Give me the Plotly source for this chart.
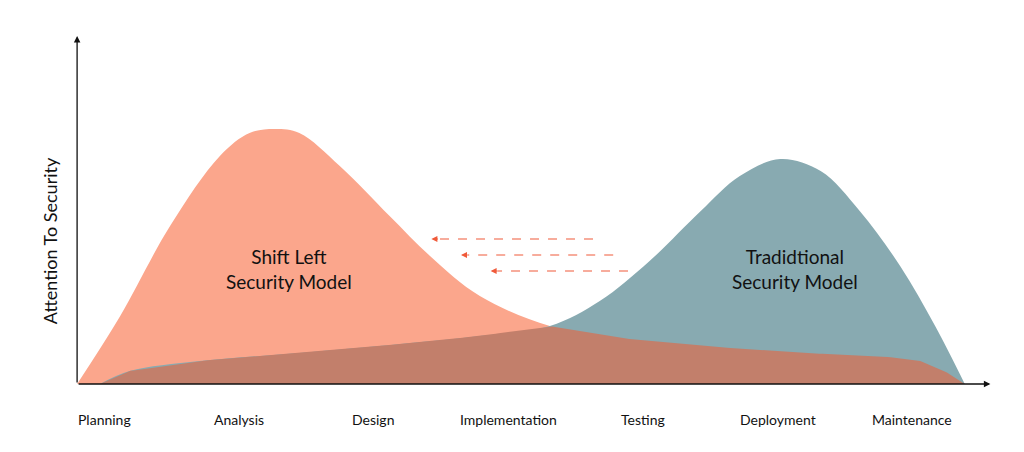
import numpy as np
import plotly.graph_objects as go

phases = ["Planning", "Analysis", "Design", "Implementation", "Testing", "Deployment", "Maintenance"]

# curve values (x in phase units, y = attention)
shift_x = [-0.2, 0.12, 0.49, 0.86, 1.08, 1.27, 1.45, 1.75, 2.12, 2.42, 2.79, 3.31, 3.83, 4.43, 5.17, 5.76, 6.06, 6.24, 6.39]
shift_y = [0, 68, 158, 228, 251, 255, 251, 218, 168, 128, 88, 58, 46, 38, 31, 28, 23, 13, 0]
trad_x = [-0.03, 0.19, 0.71, 1.45, 2.20, 2.79, 3.31, 3.68, 4.05, 4.43, 4.72, 5.02, 5.32, 5.61, 5.91, 6.17, 6.39]
trad_y = [0, 13, 23, 31, 40, 48, 58, 83, 123, 173, 208, 225, 213, 173, 118, 58, 0]

grid = np.linspace(-0.2, 6.39, 300)
s_i = np.interp(grid, shift_x, shift_y)
t_i = np.interp(grid, trad_x, trad_y, left=0, right=0)
overlap = np.minimum(s_i, t_i)

fig = go.Figure()
fig.add_trace(go.Scatter(x=shift_x, y=shift_y, fill="tozeroy", mode="lines",
                         line=dict(color="#FBA68C", width=0, shape="spline"), fillcolor="#FBA68C"))
fig.add_trace(go.Scatter(x=trad_x, y=trad_y, fill="tozeroy", mode="lines",
                         line=dict(color="#88AAB1", width=0, shape="spline"), fillcolor="#88AAB1"))
fig.add_trace(go.Scatter(x=grid, y=overlap, fill="tozeroy", mode="lines",
                         line=dict(color="#C27F6B", width=0), fillcolor="#C27F6B"))

font = "Lato, Inter, sans-serif"
ann = []
for i, p in enumerate(phases):
    ann.append(dict(x=i, y=-35, text=p, showarrow=False, font=dict(size=14, color="#111")))
ann.append(dict(x=1.37, y=115, text="Shift Left<br>Security Model", showarrow=False,
                font=dict(size=19, color="#111", family=font)))
ann.append(dict(x=5.13, y=115, text="Tradidtional<br>Security Model", showarrow=False,
                font=dict(size=19, color="#111", family=font)))
# axis arrows
ann.append(dict(x=-0.2, y=348, ax=-0.2, ay=0, axref="x", ayref="y", showarrow=True,
                arrowhead=2, arrowwidth=1.3, arrowcolor="#111", text=""))
ann.append(dict(x=6.58, y=0, ax=-0.2, ay=0, axref="x", ayref="y", showarrow=True,
                arrowhead=2, arrowwidth=1.3, arrowcolor="#111", text=""))
ann.append(dict(x=-0.4, y=143, text="Attention To Security", textangle=-90, showarrow=False,
                font=dict(size=18, color="#111", family=font)))

shapes = []
for x0, x1, y in [(3.63, 2.43, 145), (3.78, 2.65, 129), (3.89, 2.87, 113)]:
    shapes.append(dict(type="line", x0=x0, x1=x1 + 0.05, y0=y, y1=y,
                       line=dict(color="#F05A3A", width=1.2, dash="dash")))
    ann.append(dict(x=x1, y=y, ax=x1 + 0.06, ay=y, axref="x", ayref="y", showarrow=True,
                    arrowhead=2, arrowwidth=1.2, arrowcolor="#F05A3A", text=""))

fig.update_layout(width=1024, height=452, margin=dict(l=0, r=0, t=0, b=0),
                  paper_bgcolor="white", plot_bgcolor="white", showlegend=False,
                  font=dict(family=font),
                  xaxis=dict(range=[-0.713, 6.889], visible=False),
                  yaxis=dict(range=[-76, 376], visible=False),
                  annotations=ann, shapes=shapes)
fig.write_html("out.html")
